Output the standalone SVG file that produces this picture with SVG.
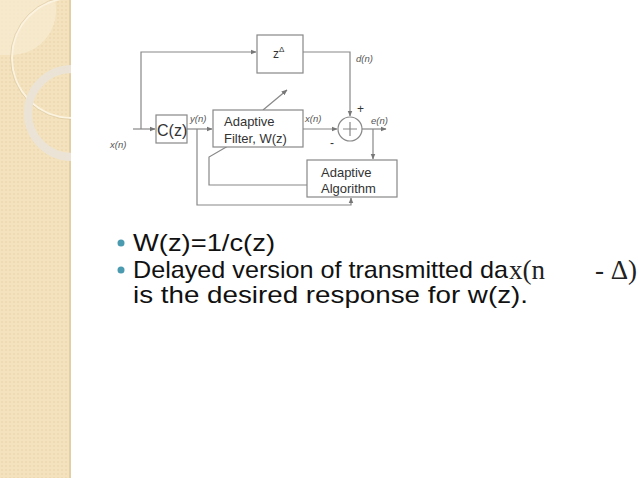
<svg xmlns="http://www.w3.org/2000/svg" width="638" height="478" viewBox="0 0 638 478">
<defs>
<pattern id="dots" width="4" height="4" patternUnits="userSpaceOnUse"><rect width="4" height="4" fill="#f3e2bd"/><circle cx="2" cy="2" r="0.8" fill="#e8d3a6"/></pattern>
<marker id="ar" viewBox="0 0 10 10" refX="9" refY="5" markerWidth="5" markerHeight="5" orient="auto"><path d="M0,1 L10,5 L0,9 z" fill="#777"/></marker>
<style>
.b{fill:#fff;stroke:#888;stroke-width:1.2}
.l{fill:none;stroke:#888;stroke-width:1.2}
.t{font-family:"Liberation Sans",Arial,sans-serif;fill:#333}
.i{font-family:"Liberation Sans",Arial,sans-serif;font-style:italic;font-size:9.5px;fill:#555}
.x{font-family:"Liberation Sans",Arial,sans-serif;font-size:24px;fill:#111}
</style>
</defs>
<rect width="638" height="478" fill="#fff"/>
<rect width="70" height="478" fill="url(#dots)"/>
<rect x="69" width="2" height="478" fill="#e2cfa4"/>
<path d="M0,0 H55 A45,45 0 0 1 10,55 H0 Z" fill="#f8ecd3" opacity="0.7"/>
<circle cx="72" cy="58" r="60" fill="none" stroke="#fbf3e0" stroke-width="2"/>
<circle cx="72" cy="58" r="61.5" fill="none" stroke="#d9c59a" stroke-width="0.6"/>
<circle cx="72" cy="113" r="44" fill="none" stroke="#ebe4d6" stroke-width="8"/>
<rect x="71" width="567" height="478" fill="#fff"/>
<g id="connectors">
<path class="l" d="M133,129 H155" marker-end="url(#ar)"/>
<path class="l" d="M141,129 V52 H256" marker-end="url(#ar)"/>
<path class="l" d="M187,129 H212" marker-end="url(#ar)"/>
<path class="l" d="M303,129 H337" marker-end="url(#ar)"/>
<path class="l" d="M303,52 H350 V116" marker-end="url(#ar)"/>
<path class="l" d="M362,129 H386" marker-end="url(#ar)"/>
<path class="l" d="M373,129 V159" marker-end="url(#ar)"/>
<path class="l" d="M307,185 H209 V157 L228,146"/>
<path class="l" d="M197,129 V205 H351 V198" marker-end="url(#ar)"/>
<path class="l" d="M263,110 L287,90" marker-end="url(#ar)"/>
</g>
<g id="delay"><rect class="b" x="257" y="35" width="46" height="38"/><text class="t" x="273" y="58" font-size="12">z<tspan font-size="8" dy="-6">Δ</tspan></text></g>
<g id="cz"><rect class="b" x="156" y="115" width="31" height="28"/><text class="t" x="157" y="136" font-size="16">C(z)</text></g>
<g id="filter"><rect class="b" x="213" y="110" width="90" height="37"/><text class="t" x="224" y="126" font-size="13">Adaptive</text><text class="t" x="224" y="143" font-size="13">Filter, W(z)</text></g>
<g id="sum"><circle class="b" cx="350" cy="129" r="12"/><path class="l" d="M343,129 H357 M350,122 V136"/></g>
<g id="algo"><rect class="b" x="307" y="160" width="90" height="37"/><text class="t" x="321" y="177" font-size="13">Adaptive</text><text class="t" x="321" y="193" font-size="13">Algorithm</text></g>
<g id="labels">
<text class="i" x="110" y="148">x(n)</text>
<text class="i" x="190" y="122">y(n)</text>
<text class="i" x="305" y="122">x(n)</text>
<text class="i" x="356" y="62">d(n)</text>
<text class="i" x="371" y="124">e(n)</text>
<text class="t" x="357" y="113" font-size="12">+</text>
<text class="t" x="330" y="147" font-size="12">-</text>
</g>
<g id="text">
<circle cx="121" cy="243" r="3.5" fill="#4a9ab0"/>
<circle cx="121" cy="270" r="3.5" fill="#4a9ab0"/>
<text class="x" x="133" y="251" textLength="142" lengthAdjust="spacingAndGlyphs">W(z)=1/c(z)</text>
<text class="x" x="133" y="278" textLength="375" lengthAdjust="spacingAndGlyphs">Delayed version of transmitted da</text>
<text x="509" y="279" font-family="Liberation Serif,serif" font-size="27" fill="#222">x(n<tspan x="595">- Δ)</tspan></text>
<text class="x" x="133" y="303" textLength="395" lengthAdjust="spacingAndGlyphs">is the desired response for w(z).</text>
</g>
</svg>
